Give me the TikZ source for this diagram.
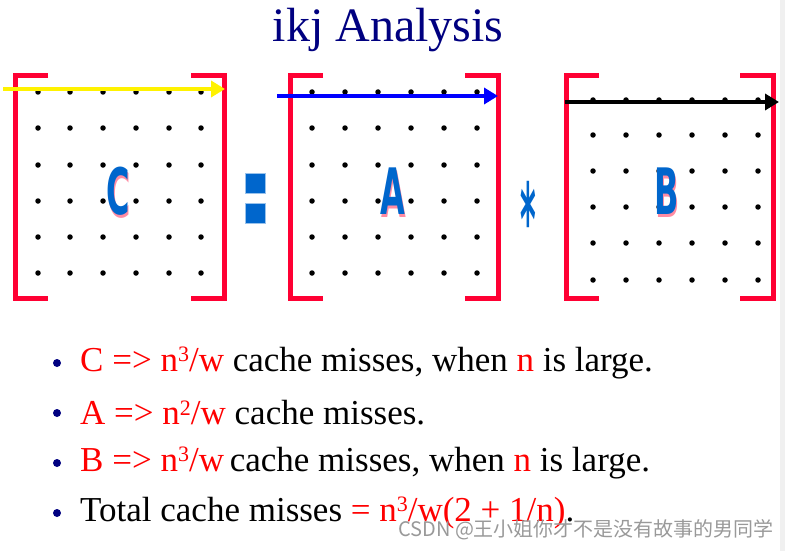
\documentclass[tikz,border=0pt]{standalone}
\usepackage{fontspec}
\setmainfont{Liberation Serif}
\newfontfamily\lettf{DejaVu Sans}
\newfontfamily\cjk{Noto Sans CJK SC}
\usetikzlibrary{arrows.meta}
\definecolor{brk}{HTML}{FF0033}
\definecolor{navy}{HTML}{000080}
\definecolor{lblue}{HTML}{0066CC}
\tikzset{
  brack/.style={draw=brk,line width=5pt},
  dotm/.style={fill=black,circle,inner sep=0pt,minimum size=5.5pt},
  arr/.style={line width=4.5pt,-{Triangle[length=14pt,width=16pt]}},
  bigl/.style={font=\lettf\bfseries\fontsize{64}{64}\selectfont,text=lblue,xscale=0.5,inner sep=0pt},
  bl/.style={font=\fontsize{35}{40}\selectfont,anchor=west,inner sep=0pt},
}
\newcommand{\mybracket}[4]{% left x, right x, top, bottom
  \draw[brack] (#1+33,#3) -- (#1,#3) -- (#1,#4) -- (#1+33,#4);
  \draw[brack] (#2-33,#3) -- (#2,#3) -- (#2,#4) -- (#2-33,#4);}
\newcommand{\sq}[1]{\raisebox{0.6ex}{\fontsize{22}{22}\selectfont #1}}
\newcommand{\shad}[1]{\rlap{\kern2pt\raisebox{-3pt}{\textcolor{brk!45}{#1}}}#1}
\begin{document}
\begin{tikzpicture}[x=1pt,y=-1pt]
\useasboundingbox (0,0) rectangle (785,551);
\fill[gray!12] (780,0) rectangle (785,551);
\node[text=navy,font=\fontsize{48}{54}\selectfont] (title) at (388,30) {ikj Analysis};
% brackets
\mybracket{15}{224}{76}{298}
\mybracket{290}{498}{76}{298}
\mybracket{566}{773}{76}{298}
% dots
\foreach \r [count=\i] in {92,128,165,201,237,273}{
  \foreach \c [count=\j] in {38,70,103,136,169,201}{\node[dotm] (c\i\j) at (\c,\r) {};}
  \foreach \c [count=\j] in {312,345,378,411,444,477}{\node[dotm] (a\i\j) at (\c,\r) {};}
}
\foreach \r [count=\i] in {100,135,171,207,243,280}{
  \foreach \c [count=\j] in {593,626,659,692,725,758}{\node[dotm] (b\i\j) at (\c,\r) {};}
}
% arrows
\coordinate (ys) at (3,89); \coordinate (ye) at (225,89);
\coordinate (bs) at (277,96); \coordinate (be) at (498,96);
\coordinate (ks) at (565,102); \coordinate (ke) at (779,102);
\draw[arr,yellow] (ys) -- (ye);
\draw[arr,blue] (bs) -- (be);
\draw[arr,black] (ks) -- (ke);
% letters
\node[bigl] (lc) at (118,193) {\shad{C}};
\node[bigl] (la) at (393,193) {\shad{A}};
\node[bigl] (lb) at (667,193) {\shad{B}};
% equals (two squares)
\node[fill=lblue,draw=lblue!40,minimum size=20pt,inner sep=0pt] (eq1) at (255,183) {};
\node[fill=lblue,draw=lblue!40,minimum size=20pt,inner sep=0pt] (eq2) at (255,213) {};
\node[bigl,font=\lettf\bfseries\fontsize{100}{100}\selectfont,xscale=0.6] (star) at (528,218) {*};
% bullets
\foreach \y/\n in {363/1,413/2,463/3,513/4}{\node[fill=navy,circle,inner sep=0pt,minimum size=8pt] (d\n) at (57,\y) {};}
\node[bl] (t1) at (80,363) {\textcolor{red}{C => n\sq{3}/w} cache misses, when \textcolor{red}{n} is large.};
\node[bl] (t2) at (80,413) {\textcolor{red}{A => n\sq{2}/w} cache misses.};
\node[bl] (t3) at (80,463) {\textcolor{red}{B => n\sq{3}/w}\,cache misses, when \textcolor{red}{n} is large.};
\node[bl] (t4) at (80,513) {Total cache misses \textcolor{red}{= n\sq{3}/w(2 + 1/n)}.};
\node[anchor=west,text=gray!80,font=\cjk\fontsize{20}{22}\selectfont,inner sep=0pt] (wm) at (398,530) {CSDN @王小姐你才不是没有故事的男同学};
\end{tikzpicture}
\end{document}
